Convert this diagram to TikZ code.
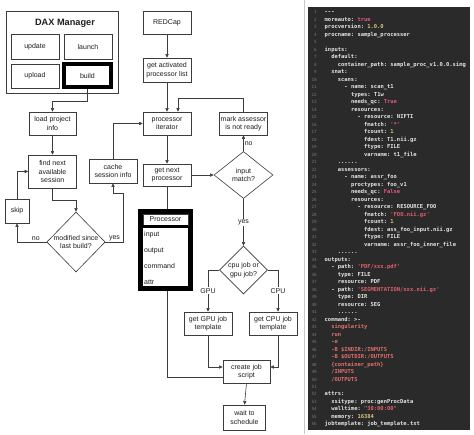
\documentclass[tikz,border=0pt]{standalone}
\usepackage{fontspec}
\setmainfont{Liberation Sans}
\setmonofont{DejaVu Sans Mono}
\usetikzlibrary{shapes.geometric, arrows.meta, positioning}
\definecolor{Flow_Line}{HTML}{3C3C3C}
\definecolor{Flow_Text}{HTML}{1E1E1E}
\definecolor{Code_Bg}{HTML}{2A2A2A}
\definecolor{Code_Text}{HTML}{E4E4E4}
\definecolor{Code_Num}{HTML}{767676}
\definecolor{Code_Bool}{HTML}{E0578A}
\definecolor{Code_Digit}{HTML}{D8C27A}
\definecolor{Code_Str}{HTML}{E0606E}
\definecolor{Code_Cmd}{HTML}{E2706C}
\definecolor{Panel_Rule}{HTML}{C8C8C8}
\newcommand{\ybool}[1]{\textcolor{Code_Bool}{#1}}
\newcommand{\ydigit}[1]{\textcolor{Code_Digit}{#1}}
\newcommand{\ystr}[1]{\textcolor{Code_Str}{#1}}
\newcommand{\ycmd}[1]{\textcolor{Code_Cmd}{#1}}
\newcommand{\codeln}[3]{%
  \node[lnum] (n#1) at (317,{6.5+#1*7.49}) {#1};
  \node[code] (c#1) at ({324.5+#2*3.29},{6.5+#1*7.49}) {#3};}

\begin{document}
\begin{tikzpicture}[
    x=1pt, y=-1pt,
    box/.style={draw=Flow_Line, line width=0.6pt, fill=white, minimum width=48pt, minimum height=23pt, inner sep=1pt, align=center, text=Flow_Text, font=\fontsize{7}{8.5}\selectfont},
    choice/.style={draw=Flow_Line, line width=0.6pt, fill=white, diamond, inner sep=0pt, align=center, text=Flow_Text, font=\fontsize{7}{8.5}\selectfont},
    arr/.style={draw=Flow_Line, line width=0.6pt, -{Triangle[length=3.6pt,width=3.2pt]}},
    link/.style={draw=Flow_Line, line width=0.6pt},
    tag/.style={inner sep=1pt, text=Flow_Text, font=\fontsize{7}{8}\selectfont},
    field/.style={anchor=west, inner sep=0pt, text=Flow_Text, font=\fontsize{7}{8}\selectfont},
    lnum/.style={anchor=base east, inner sep=0pt, text=Code_Num, font=\ttfamily\fontsize{4.3}{5}\selectfont},
    code/.style={anchor=base west, inner sep=0pt, text=Code_Text, font=\ttfamily\bfseries\fontsize{5.45}{6}\selectfont}
]
\useasboundingbox (0,0) rectangle (474,434);

\node[draw=Flow_Line, line width=0.7pt, minimum width=112pt, minimum height=82pt] (dax) at (62,52) {};
\node[font=\bfseries\fontsize{9.2}{11}\selectfont, text=Flow_Text] (daxtitle) at (65,23.5) {DAX Manager};
\node[box, minimum height=25pt] (update) at (35,46.5) {update};
\node[box, minimum height=25pt] (launch) at (88,46.5) {launch};
\node[box, minimum height=24pt] (upload) at (35,76) {upload};
\node[box, draw=black, line width=4pt, minimum width=47pt] (build) at (87.5,75.5) {build};

\node[box, minimum width=47pt] (load) at (52.5,123.5) {load project\\info};
\node[box, minimum height=33pt] (find) at (52.5,171.5) {find next\\available\\session};
\node[box, minimum width=24pt, minimum height=24pt] (skip) at (17,211) {skip};
\node[choice, minimum width=58pt, minimum height=60pt] (modified) at (76,242) {modified since\\last build?};
\node[box, minimum height=24pt] (cache) at (113,171) {cache\\session info};

\node[box] (redcap) at (167,22.5) {REDCap};
\node[box, minimum height=24pt] (activated) at (167,70) {get activated\\processor list};
\node[box] (iterator) at (167,123.5) {processor\\iterator};
\node[box, minimum width=47pt] (mark) at (243.5,123.5) {mark assessor\\is not ready};
\node[box, minimum height=22pt] (nextproc) at (167,175) {get next\\processor};
\node[choice, minimum width=59pt, minimum height=47pt] (match) at (243.5,175) {input\\match?};
\node[choice, minimum width=48pt, minimum height=48pt] (cpugpu) at (243.5,270) {cpu job or\\gpu job?};
\node[box] (gputpl) at (208,323.5) {get GPU job\\template};
\node[box] (cputpl) at (273,323.5) {get CPU job\\template};
\node[box, minimum width=47pt] (create) at (246.5,371.5) {create job\\script};
\node[box, minimum width=42pt, minimum height=25pt] (wait) at (244.5,417.5) {wait to\\schedule};

\draw[arr] (build.south) -- ++(0,12) -| (load.north);
\draw[arr] (load.south) -- (find.north);
\draw[arr] (find.south) -- ++(0,12) -| (modified.north);
\draw[arr] (modified.west) -| node[tag, above, pos=0.18] {no} (skip.south);
\draw[arr] (skip.north) |- (find.west);
\draw[arr] (modified.east) -- node[tag, above] {yes} ++(18,0) |- ([yshift=-10pt]cache.south) -- (cache.south);
\draw[arr] (cache.north) |- (iterator.west);
\draw[arr] (redcap.south) -- (activated.north);
\draw[arr] (activated.south) -- (iterator.north);
\draw[arr] (mark.north) -- ++(0,-13) -| ([xshift=11pt]iterator.north);
\draw[arr] (iterator.south) -- (nextproc.north);
\draw[arr] (nextproc.east) -- (match.west);
\draw[arr] (match.north) -- node[tag, right] {no} (mark.south);
\draw[arr] (match.south) -- node[tag, fill=white] {yes} (cpugpu.north);
\draw[arr] (cpugpu.west) -| node[tag, fill=white, pos=0.75] {GPU} (gputpl.north);
\draw[arr] (cpugpu.east) -| node[tag, fill=white, pos=0.75] {CPU} ([xshift=5pt]cputpl.north);
\draw[arr] (gputpl.south) |- ([yshift=4.5pt]create.west);
\draw[arr] ([xshift=5pt]cputpl.south) |- ([yshift=4.5pt]create.east);
\draw[link] (nextproc.south) |- ([yshift=-5.5pt]create.west);
\draw[arr] (create.south) -- (wait.north);

\node[draw=black, line width=5pt, fill=white, minimum width=50pt, minimum height=77pt] (proc) at (165.5,250) {};
\node[draw=Flow_Line, line width=0.5pt, minimum width=45pt, minimum height=11pt, inner sep=0pt, text=Flow_Text, font=\fontsize{7}{8}\selectfont] (prochead) at (165.5,219.5) {Processor};
\draw[line width=3pt] ([yshift=-1.5pt]prochead.south west) -- ([yshift=-1.5pt]prochead.south east);
\node[field] (finput) at (144,235) {input};
\node[field] (foutput) at (144,251) {output};
\node[field] (fcommand) at (144,266) {command};
\node[field] (fattr) at (144,282) {attr};

\draw[Panel_Rule, line width=0.6pt] (304.5,0) -- (304.5,434);
\fill[Code_Bg] (308,7) rectangle (470,430);
\codeln{1}{0}{-{}-{}-}
\codeln{2}{0}{moreauto: \ybool{true}}
\codeln{3}{0}{procversion: \ydigit{1.0.0}}
\codeln{4}{0}{procname: sample\_processer}
\codeln{5}{0}{}
\codeln{6}{0}{inputs:}
\codeln{7}{2}{default:}
\codeln{8}{4}{container\_path: sample\_proc\_v1.0.0.simg}
\codeln{9}{2}{xnat:}
\codeln{10}{4}{scans:}
\codeln{11}{6}{- name: scan\_t1}
\codeln{12}{8}{types: T1w}
\codeln{13}{8}{needs\_qc: \ybool{True}}
\codeln{14}{8}{resources:}
\codeln{15}{10}{- resource: NIFTI}
\codeln{16}{12}{fmatch: \ystr{'*'}}
\codeln{17}{12}{fcount: \ydigit{1}}
\codeln{18}{12}{fdest: T1.nii.gz}
\codeln{19}{12}{ftype: FILE}
\codeln{20}{12}{varname: t1\_file}
\codeln{21}{4}{......}
\codeln{22}{4}{assessors:}
\codeln{23}{6}{- name: assr\_foo}
\codeln{24}{8}{proctypes: foo\_v1}
\codeln{25}{8}{needs\_qc: \ybool{False}}
\codeln{26}{8}{resources:}
\codeln{27}{10}{- resource: RESOURCE\_FOO}
\codeln{28}{12}{fmatch: \ystr{'FOO.nii.gz'}}
\codeln{29}{12}{fcount: \ydigit{1}}
\codeln{30}{12}{fdest: ass\_foo\_input.nii.gz}
\codeln{31}{12}{ftype: FILE}
\codeln{32}{12}{varname: assr\_foo\_inner\_file}
\codeln{33}{4}{......}
\codeln{34}{0}{outputs:}
\codeln{35}{2}{- path: \ystr{'PDF/xxx.pdf'}}
\codeln{36}{4}{type: FILE}
\codeln{37}{4}{resource: PDF}
\codeln{38}{2}{- path: \ystr{'SEGMENTATION/xxx.nii.gz'}}
\codeln{39}{4}{type: DIR}
\codeln{40}{4}{resource: SEG}
\codeln{41}{4}{......}
\codeln{42}{0}{command: >-}
\codeln{43}{2}{\ycmd{singularity}}
\codeln{44}{2}{\ycmd{run}}
\codeln{45}{2}{\ycmd{-e}}
\codeln{46}{2}{\ycmd{-B \$INDIR:/INPUTS}}
\codeln{47}{2}{\ycmd{-B \$OUTDIR:/OUTPUTS}}
\codeln{48}{2}{\ycmd{\{container\_path\}}}
\codeln{49}{2}{\ycmd{/INPUTS}}
\codeln{50}{2}{\ycmd{/OUTPUTS}}
\codeln{51}{0}{}
\codeln{52}{0}{attrs:}
\codeln{53}{2}{xsitype: proc:genProcData}
\codeln{54}{2}{walltime: \ystr{"30:00:00"}}
\codeln{55}{2}{memory: \ydigit{16384}}
\codeln{56}{0}{jobtemplate: job\_template.txt}
\end{tikzpicture}
\end{document}
